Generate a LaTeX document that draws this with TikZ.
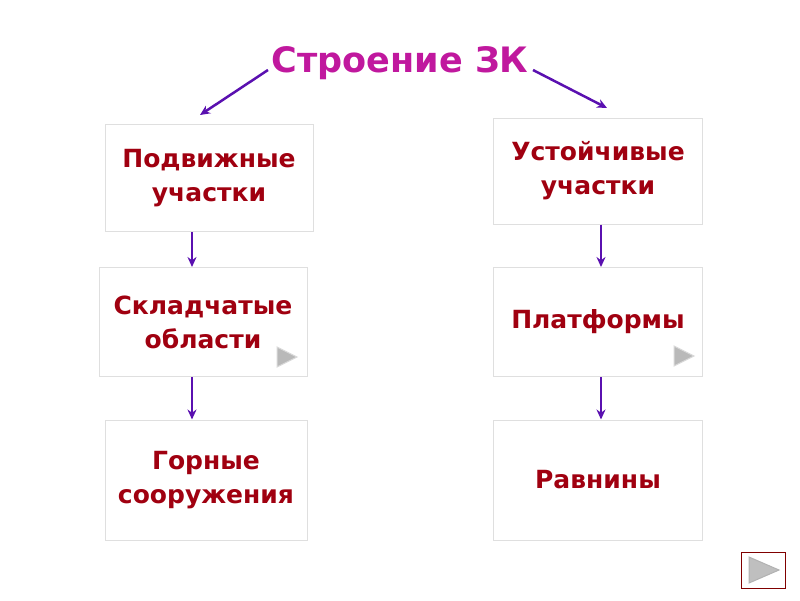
\documentclass[tikz,border=0pt]{standalone}
\usepackage{fontspec}
\setmainfont{DejaVu Sans}
\usetikzlibrary{arrows.meta}
\definecolor{arrc}{HTML}{5A10B0}
\definecolor{titc}{HTML}{C0189E}
\definecolor{txtc}{HTML}{A00010}
\begin{document}
\begin{tikzpicture}[x=1pt,y=-1pt,
 box/.style={draw=gray!25,line width=1pt,fill=white,minimum width=208pt,align=center,font=\bfseries\fontsize{25}{34}\selectfont,text=txtc},
 arr/.style={-{Stealth[length=10pt,width=9pt]},draw=arrc,line width=2.5pt},
 play/.style={fill=gray!55,draw=gray!30,line width=1pt}]
\useasboundingbox (0,0) rectangle (800,600);
\node[font=\bfseries\fontsize{35}{38}\selectfont,text=titc] (t) at (400,63) {Строение ЗК};
\node[box,minimum height=107pt] (a1) at (209,178) {Подвижные\\ участки};
\node[box,minimum height=109pt] (a2) at (203,322) {Складчатые\\ области};
\node[box,minimum height=120pt,minimum width=202pt] (a3) at (206,480) {Горные\\ сооружения};
\node[box,minimum height=106pt,minimum width=209pt] (b1) at (598,171) {Устойчивые\\ участки};
\node[box,minimum height=109pt,minimum width=209pt] (b2) at (598,322) {Платформы};
\node[box,minimum height=120pt,minimum width=209pt] (b3) at (598,480) {Равнины};
\coordinate (tl) at (268,70); \coordinate (tr) at (533,70);
\coordinate (al) at (200,115); \coordinate (ar) at (607,108);
\draw[arr] (tl) -- (al);
\draw[arr] (tr) -- (ar);
\draw[arr] (a1.south -| 192,0) -- (a2.north -| 192,0);
\draw[arr] (a2.south -| 192,0) -- (a3.north -| 192,0);
\draw[arr] (b1.south -| 601,0) -- (b2.north -| 601,0);
\draw[arr] (b2.south -| 601,0) -- (b3.north -| 601,0);
\draw[play] (277,347) -- (297,357) -- (277,367) -- cycle;
\draw[play] (674,346) -- (694,356) -- (674,366) -- cycle;
\draw[draw=red!50!black,line width=1pt] (741,552) rectangle (785,588);
\draw[draw=gray!60,fill=gray!50,line width=1pt] (749,557) -- (779,570) -- (749,583) -- cycle;
\end{tikzpicture}
\end{document}
